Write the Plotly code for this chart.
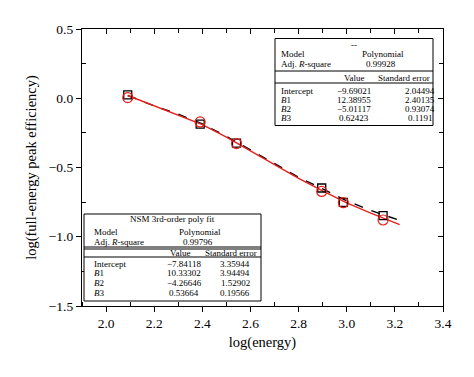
import plotly.graph_objects as go

# ---- data ----
energy_log = [2.09, 2.391, 2.542, 2.896, 2.986, 3.151]
eff_square = [0.024, -0.187, -0.324, -0.648, -0.752, -0.848]
eff_circle = [0.005, -0.171, -0.327, -0.673, -0.754, -0.879]

fit_x = [2.09, 2.2, 2.3, 2.4, 2.5, 2.6, 2.7, 2.8, 2.9, 3.0, 3.1, 3.22]
fit_black = [0.02, -0.055, -0.115, -0.185, -0.275, -0.375, -0.475, -0.57, -0.655, -0.74, -0.81, -0.882]
fit_red = [0.02, -0.055, -0.118, -0.19, -0.28, -0.38, -0.48, -0.578, -0.668, -0.755, -0.83, -0.912]

x_ticks = [2.0, 2.2, 2.4, 2.6, 2.8, 3.0, 3.2, 3.4]
x_ticktext = ["2.0", "2.2", "2.4", "2.6", "2.8", "3.0", "3.2", "3.4"]
x_minor = [1.9, 2.1, 2.3, 2.5, 2.7, 2.9, 3.1, 3.3]
y_ticks = [-1.5, -1.0, -0.5, 0.0, 0.5]
y_ticktext = ["\u22121.5", "\u22121.0", "\u22120.5", "0.0", "0.5"]
y_minor = [-1.25, -0.75, -0.25, 0.25]

top_table = {
    "title": "--", "model": "Polynomial", "r2": "0.99928",
    "params": ["Intercept", "<i>B</i>1", "<i>B</i>2", "<i>B</i>3"],
    "values": ["\u22129.69021", "12.38955", "\u22125.01117", "0.62423"],
    "errors": ["2.04494", "2.40135", "0.93074", "0.1191"],
}
bot_table = {
    "title": "NSM 3rd-order poly fit", "model": "Polynomial", "r2": "0.99796",
    "params": ["Intercept", "<i>B</i>1", "<i>B</i>2", "<i>B</i>3"],
    "values": ["\u22127.84118", "10.33302", "\u22124.26646", "0.53664"],
    "errors": ["3.35944", "3.94494", "1.52902", "0.19566"],
}

W, H = 474, 377
L, R, T, B = 82, 31, 29, 71
PW, PH = W - L - R, H - T - B
FONT = "Liberation Serif"


def px(x):
    return (x - L) / PW


def py(y):
    return (H - B - y) / PH


fig = go.Figure()
fig.add_trace(go.Scatter(x=fit_x, y=fit_black, mode="lines",
                         line=dict(color="black", width=1.4, dash="dash"), showlegend=False))
fig.add_trace(go.Scatter(x=fit_x, y=fit_red, mode="lines",
                         line=dict(color="#e8201a", width=1.4), showlegend=False))
fig.add_trace(go.Scatter(x=energy_log, y=eff_square, mode="markers",
                         marker=dict(symbol="square-open", size=8, color="black", line=dict(width=1.3)),
                         showlegend=False))
fig.add_trace(go.Scatter(x=energy_log, y=eff_circle, mode="markers",
                         marker=dict(symbol="circle-open", size=10, color="#e8201a", line=dict(width=1.2)),
                         showlegend=False))

shapes = []
annotations = []
TS = 9


def hline(x0, x1, y):
    shapes.append(dict(type="line", xref="paper", yref="paper", x0=px(x0), x1=px(x1),
                       y0=py(y), y1=py(y), line=dict(color="black", width=1)))


def box(x0, x1, y0, y1):
    shapes.append(dict(type="rect", xref="paper", yref="paper", x0=px(x0), x1=px(x1),
                       y0=py(y1), y1=py(y0), line=dict(color="black", width=1),
                       fillcolor="white", layer="above"))


def text(s, x, y, anchor="center"):
    annotations.append(dict(text=s, x=px(x), y=py(y), xref="paper", yref="paper",
                            xanchor=anchor, yanchor="middle", showarrow=False,
                            font=dict(family=FONT, size=TS, color="black")))


# top table
box(275, 433, 38.5, 125.5)
hline(275, 433, 71)
hline(275, 433, 83)
text(top_table["title"], 354, 45)
text("Model", 279, 54.5, "left")
text("Adj. <i>R</i>-square", 279, 63.5, "left")
text(top_table["model"], 383, 54.5)
text(top_table["r2"], 381, 63.5)
text("Value", 354, 77.5)
text("Standard error", 432, 77.5, "right")
for i, yy in enumerate([90.5, 99.7, 108.7, 117.7]):
    text(top_table["params"][i], 279, yy, "left")
    text(top_table["values"][i], 354, yy)
    text(top_table["errors"][i], 420, yy)

# bottom table
box(84, 261, 214, 301)
hline(84, 261, 247)
hline(84, 261, 249)
hline(84, 261, 257)
text(bot_table["title"], 172, 219)
text("Model", 92, 231.5, "left")
text("Adj. <i>R</i>-square", 92, 242, "left")
text(bot_table["model"], 200, 231.5)
text(bot_table["r2"], 198, 242)
text("Value", 180, 252.5)
text("Standard error", 231, 252.5)
for i, yy in enumerate([263.5, 273.3, 283, 293]):
    text(bot_table["params"][i], 92, yy, "left")
    text(bot_table["values"][i], 184, yy)
    text(bot_table["errors"][i], 235, yy)

axis_common = dict(showgrid=False, zeroline=False, linecolor="black", linewidth=1.2)

fig.update_layout(
    width=W, height=H,
    margin=dict(l=L, r=R, t=T, b=B, pad=0),
    paper_bgcolor="white", plot_bgcolor="white",
    font=dict(family=FONT, color="black", size=13),
    shapes=shapes, annotations=annotations,
    xaxis=dict(range=[1.9, 3.4], tickvals=x_ticks, ticktext=x_ticktext,
               ticks="outside", ticklen=5, tickwidth=1.2, tickcolor="black",
               minor=dict(tickvals=x_minor, ticks="inside",
                          ticklen=4, tickcolor="black", tickwidth=1),
               tickfont=dict(size=13.5), mirror=True,
               title=dict(text="log(energy)", font=dict(size=14.5), standoff=6),
               **axis_common),
    yaxis=dict(range=[-1.5, 0.5], tickvals=y_ticks, ticktext=y_ticktext,
               ticks="outside", ticklen=5, tickwidth=1.2, tickcolor="black",
               minor=dict(tickvals=y_minor, ticks="inside",
                          ticklen=4, tickcolor="black", tickwidth=1),
               tickfont=dict(size=13.5), mirror=True,
               title=dict(text="log(full-energy peak efficiency)", font=dict(size=14.5), standoff=8),
               **axis_common),
    xaxis2=dict(range=[1.9, 3.4], overlaying="x", side="top", anchor="y",
                tickvals=x_ticks, showticklabels=False,
                ticks="inside", ticklen=5, tickwidth=1.2, tickcolor="black",
                minor=dict(tickvals=x_minor, ticks="inside",
                           ticklen=4, tickcolor="black", tickwidth=1),
                showgrid=False, zeroline=False, showline=False),
    yaxis2=dict(range=[-1.5, 0.5], overlaying="y", side="right", anchor="x",
                tickvals=y_ticks, showticklabels=False,
                ticks="inside", ticklen=5, tickwidth=1.2, tickcolor="black",
                minor=dict(tickvals=y_minor, ticks="inside",
                           ticklen=4, tickcolor="black", tickwidth=1),
                showgrid=False, zeroline=False, showline=False),
)
# invisible trace to activate the overlay axes
fig.add_trace(go.Scatter(x=[None], y=[None], xaxis="x2", yaxis="y2", showlegend=False, hoverinfo="skip"))

fig.write_html("out.html", config={"displayModeBar": False},
               post_script="document.body.style.margin='0';")
